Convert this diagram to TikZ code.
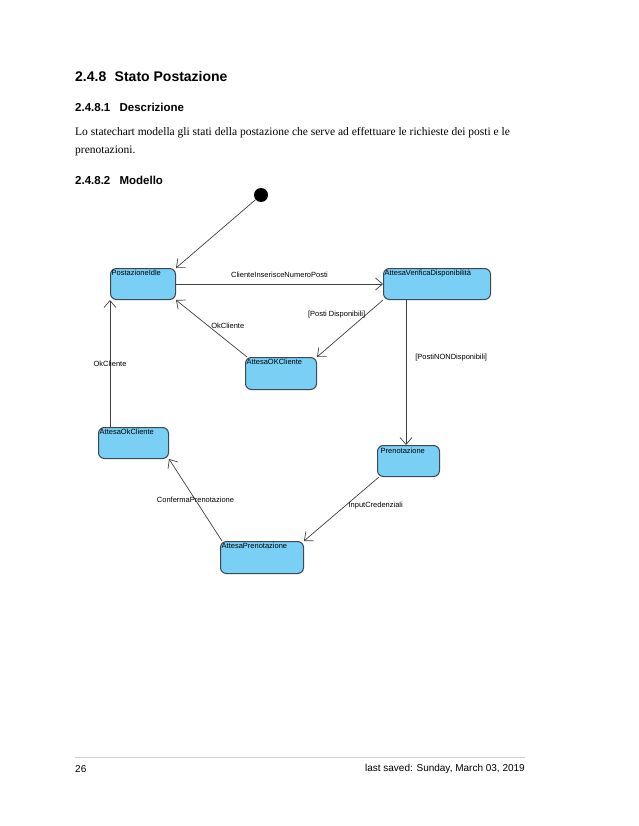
\documentclass[tikz,border=0pt]{standalone}
\usepackage{fontspec}
\setmainfont{Liberation Serif}
\newfontfamily\hsans{Liberation Sans}
\usetikzlibrary{arrows.meta}
\definecolor{stfill}{HTML}{7ACFF5}
\definecolor{stline}{HTML}{3A4A55}
\tikzset{
  st/.style={draw=stline,line width=1pt,fill=stfill,rounded corners=6pt,anchor=north west,inner sep=0pt},
  stl/.style={anchor=north west,font=\hsans\fontsize{7.5}{8}\selectfont,inner sep=1.5pt},
  tr/.style={draw=black!75,line width=0.7pt,-{Straight Barb[length=7pt,width=12pt]}},
  lb/.style={font=\hsans\fontsize{7.5}{8}\selectfont,inner sep=1pt},
}
\begin{document}
\begin{tikzpicture}[x=1pt,y=-1pt]
\useasboundingbox (0,0) rectangle (638,826);
\fill[white] (0,0) rectangle (638,826);
% page text
\node[anchor=west,inner sep=0,font=\hsans\bfseries\fontsize{14}{16}\selectfont] (h1) at (75,76) {2.4.8\hspace{0.6em}Stato Postazione};
\node[anchor=west,inner sep=0,font=\hsans\bfseries\fontsize{11.5}{13}\selectfont] (h2) at (75,107) {2.4.8.1\hspace{0.8em}Descrizione};
\node[anchor=west,inner sep=0,font=\fontsize{11.5}{13}\selectfont] (t1) at (75,133) {Lo statechart modella gli stati della postazione che serve ad effettuare le richieste dei posti e le};
\node[anchor=west,inner sep=0,font=\fontsize{11.5}{13}\selectfont] (t2) at (75,151) {prenotazioni.};
\node[anchor=west,inner sep=0,font=\hsans\bfseries\fontsize{11.5}{13}\selectfont] (h3) at (75,180) {2.4.8.2\hspace{0.8em}Modello};
% states
\node[st,minimum width=65pt,minimum height=31pt] (pi) at (110,268) {};
\node[stl] at (pi.north west) {PostazioneIdle};
\node[st,minimum width=107pt,minimum height=31pt] (avd) at (383,268) {};
\node[stl] at (avd.north west) {AttesaVerificaDisponibilità};
\node[st,minimum width=71pt,minimum height=32pt] (aoc) at (245,357) {};
\node[stl] at (aoc.north west) {AttesaOKCliente};
\node[st,minimum width=70pt,minimum height=31pt] (aok) at (98,427) {};
\node[stl] at (aok.north west) {AttesaOkCliente};
\node[st,minimum width=62pt,minimum height=31pt] (pr) at (377,445) {};
\node[stl,xshift=2pt,yshift=-1pt] at (pr.north west) {Prenotazione};
\node[st,minimum width=83pt,minimum height=32pt] (ap) at (220,541) {};
\node[stl] at (ap.north west) {AttesaPrenotazione};
\node[circle,fill=black,minimum size=14pt,inner sep=0] (init) at (261,195) {};
% transitions
\draw[tr] (init) -- (pi.north east);
\draw[tr] (pi.east) -- (avd.west) node[lb,midway,above=5pt] {ClienteInserisceNumeroPosti};
\draw[tr] ([yshift=-32pt]avd.north west) -- (aoc.north east) node[lb,pos=0.25,left=0pt] {[Posti Disponibili]};
\draw[tr] ([xshift=2pt]aoc.north west) -- (pi.south east) node[lb,pos=0.55,right=2pt] {OkCliente};
\draw[tr] ([xshift=23pt]avd.south west) -- ([xshift=29pt]pr.north west) node[lb,pos=0.4,right=8pt] {[PostiNONDisponibili]};
\draw[tr] ([xshift=2pt]pr.south west) -- (ap.north east) node[lb,pos=0.45,right=2pt] {InputCredenziali};
\draw[tr] ([xshift=2pt]ap.north west) -- (aok.south east) node[lb,pos=0.5] {ConfermaPrenotazione};
\draw[tr] ([xshift=12pt]aok.north west) -- ([xshift=0pt]pi.south west) node[lb,pos=0.5] {OkCliente};
% footer
\draw[gray!40,line width=0.5pt] (75,757) coordinate (fa) -- (525,757) coordinate (fb);
\node[anchor=west,inner sep=0,font=\hsans\fontsize{10}{12}\selectfont] (pg) at (75,769) {26};
\node[anchor=east,inner sep=0,font=\hsans\fontsize{10}{12}\selectfont] (ls) at (525,769) {last saved: Sunday, March 03, 2019};
\end{tikzpicture}
\end{document}
